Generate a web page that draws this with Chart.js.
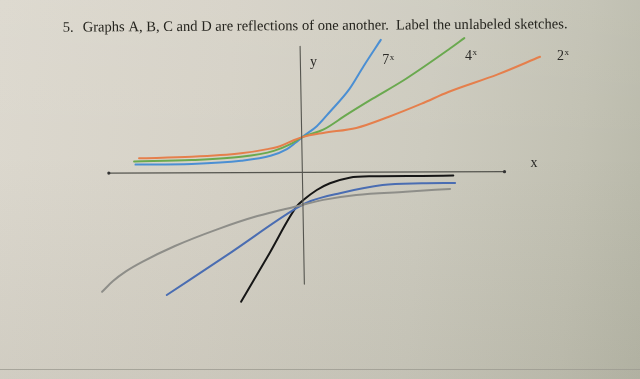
<!DOCTYPE html>
<html>
<head>
<meta charset="utf-8">
<script src="https://cdn.jsdelivr.net/npm/chart.js@4.4.1/dist/chart.umd.min.js"></script>
<style>
  html, body { margin: 0; padding: 0; width: 640px; height: 379px; overflow: hidden; }
  body {
    background:
      linear-gradient(180deg, rgba(255,255,255,0.05) 0%, rgba(0,0,0,0) 40%, rgba(40,40,20,0.06) 100%),
      linear-gradient(95deg, #dcd8ce 0%, #d6d2c7 35%, #cdcbbf 65%, #c2c1b3 88%, #b9b9aa 100%);
    position: relative;
  }
  #wrap { position: absolute; left: 0; top: 0; width: 640px; height: 379px; }
  #edge { position: absolute; left: 0; top: 369px; width: 640px; height: 1px; background: #9c9b91; opacity: 0.8; }
</style>
</head>
<body>
<div id="wrap"><canvas id="c" width="640" height="379"></canvas></div>
<div id="edge"></div>
<script>
// ---- Data (sketch units: 1 unit = one y-intercept height) ----
const curve7x_x = [-4.69, -3.11, -1.72, -0.89, -0.43, -0.19, 0, 0.41, 0.78, 1.33, 1.73, 2.21];
const curve7x_y = [0.22, 0.24, 0.33, 0.47, 0.66, 0.84, 1, 1.31, 1.72, 2.37, 3.02, 3.76];

const curve4x_x = [-4.73, -3.11, -1.72, -0.80, -0.33, 0, 0.59, 1.24, 1.98, 2.91, 4.11, 4.56];
const curve4x_y = [0.31, 0.35, 0.44, 0.61, 0.80, 1, 1.21, 1.63, 2.09, 2.65, 3.48, 3.81];

const curve2x_x = [-4.59, -3.11, -1.72, -0.98, -0.61, -0.24, 0, 0.59, 1.52, 2.44, 3.36, 4.11, 5.50, 6.69];
const curve2x_y = [0.40, 0.44, 0.54, 0.66, 0.75, 0.91, 1, 1.12, 1.26, 1.58, 1.95, 2.28, 2.78, 3.28];

const blackSketch_x = [-1.72, -0.94, -0.15, 0.04, 0.41, 0.78, 1.33, 1.98, 3.37, 4.25];
const blackSketch_y = [-3.67, -2.33, -0.96, -0.78, -0.50, -0.31, -0.15, -0.11, -0.10, -0.09];

const blueSketch_x = [-3.81, -2.00, -0.15, 0.22, 1.06, 2.26, 3.37, 4.30];
const blueSketch_y = [-3.48, -2.27, -1.01, -0.82, -0.59, -0.36, -0.31, -0.30];

const graySketch_x = [-5.63, -5.33, -4.96, -4.50, -3.58, -2.37, -1.26, -0.15, 0.59, 1.52, 2.91, 4.16];
const graySketch_y = [-3.39, -3.09, -2.81, -2.54, -2.09, -1.61, -1.24, -0.96, -0.78, -0.64, -0.55, -0.47];

const xAxis_x = [-5.44, 5.69];
const xAxis_y = [-0.02, 0.02];
const yAxis_x = [-0.06, 0.06];
const yAxis_y = [3.58, -3.17];

const titleNumber = "5.";
const titleText = "Graphs A, B, C and D are reflections of one another.  Label the unlabeled sketches.";
const curveLabels = [
  { base: "y", sup: "", x: 0.22, y: 3.03 },
  { base: "7", sup: "x", x: 2.25, y: 3.07 },
  { base: "4", sup: "x", x: 4.58, y: 3.19 },
  { base: "2", sup: "x", x: 7.17, y: 3.19 },
  { base: "x", sup: "", x: 6.42, y: 0.14 }
];

// ---- build ----
function pts(xs, ys) { return xs.map((x, i) => ({ x: x, y: ys[i] })); }

function lineDs(xs, ys, color, width) {
  return {
    data: pts(xs, ys),
    borderColor: color,
    borderWidth: width,
    pointRadius: 0,
    fill: false,
    cubicInterpolationMode: 'monotone',
    borderCapStyle: 'round',
    borderJoinStyle: 'round'
  };
}

const axisColor = '#55554f';
const datasets = [
  Object.assign(lineDs(xAxis_x, xAxis_y, axisColor, 1.3), { cubicInterpolationMode: 'default', tension: 0, pointRadius: 1.6, pointBackgroundColor: '#333', pointBorderWidth: 0 }),
  Object.assign(lineDs(yAxis_x, yAxis_y, axisColor, 1.1), { cubicInterpolationMode: 'default', tension: 0 }),
  lineDs(curve2x_x, curve2x_y, '#e57f4c', 2),
  lineDs(curve4x_x, curve4x_y, '#6aa94f', 2),
  lineDs(curve7x_x, curve7x_y, '#4b8fd3', 2),
  lineDs(graySketch_x, graySketch_y, '#8e8e89', 2),
  lineDs(blueSketch_x, blueSketch_y, '#4a6db2', 2),
  lineDs(blackSketch_x, blackSketch_y, '#161616', 2)
];

const textPlugin = {
  id: 'sketchText',
  afterDatasetsDraw(chart) {
    const ctx = chart.ctx;
    const xs = chart.scales.x, ys = chart.scales.y;
    ctx.save();
    ctx.fillStyle = '#26251f';
    ctx.textBaseline = 'alphabetic';
    ctx.textAlign = 'left';
    // title, fitted to its measured span and slightly tilted like the photo
    const tx0 = 62.7, ty0 = 31.7, textStart = 82.7, textEnd = 567.7;
    let size = 16;
    ctx.font = size + 'px "Liberation Serif", "DejaVu Serif", serif';
    const w = ctx.measureText(titleText).width;
    size = size * (textEnd - textStart) / w;
    ctx.font = size.toFixed(2) + 'px "Liberation Serif", "DejaVu Serif", serif';
    ctx.translate(tx0, ty0);
    ctx.rotate(-0.0067);
    ctx.fillText(titleNumber, 0, 0);
    ctx.fillText(titleText, textStart - tx0, 0);
    ctx.restore();

    ctx.save();
    ctx.fillStyle = '#2b2a27';
    ctx.textBaseline = 'alphabetic';
    ctx.textAlign = 'left';
    curveLabels.forEach(l => {
      const px = xs.getPixelForValue(l.x);
      const py = ys.getPixelForValue(l.y);
      ctx.font = '14px "Liberation Serif", "DejaVu Serif", serif';
      ctx.fillText(l.base, px, py);
      if (l.sup) {
        const bw = ctx.measureText(l.base).width;
        ctx.font = '9px "Liberation Serif", "DejaVu Serif", serif';
        ctx.fillText(l.sup, px + bw + 0.5, py - 4.5);
      }
    });
    ctx.restore();
  }
};

new Chart(document.getElementById('c'), {
  type: 'line',
  data: { datasets: datasets },
  options: {
    responsive: false,
    devicePixelRatio: 1,
    animation: false,
    layout: { padding: 0 },
    plugins: { legend: { display: false }, tooltip: { enabled: false }, title: { display: false } },
    scales: {
      x: { type: 'linear', min: -302 / 36, max: 338 / 36, display: false },
      y: { type: 'linear', min: -207 / 36, max: 172 / 36, display: false }
    }
  },
  plugins: [textPlugin]
});
</script>
</body>
</html>
